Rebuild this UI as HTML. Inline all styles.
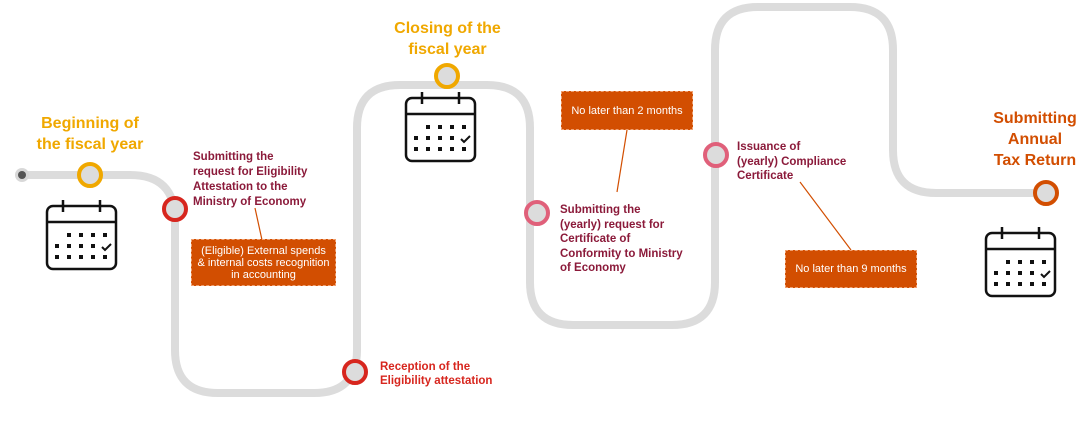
<!DOCTYPE html>
<html><head><style>
body{margin:0;width:1084px;height:428px;background:#fff;position:relative;overflow:hidden;font-family:"Liberation Sans",Arial,sans-serif}
.t{position:absolute;font-weight:bold}
.box{position:absolute;background:#d24e01;color:#fff;font-size:11px;text-align:center;border:1px dashed #f0a070;box-sizing:border-box;display:flex;align-items:center;justify-content:center;line-height:12px}
</style></head><body>
<svg width="1084" height="428" style="position:absolute;left:0;top:0">
<path d="M22 175 H130 Q175 175 175 220 V350 Q175 393 218 393 H314 Q357 393 357 350 V128 Q357 85 400 85 H487 Q530 85 530 128 V282 Q530 325 573 325 H672 Q715 325 715 282 V50 Q715 7 758 7 H850 Q893 7 893 50 V150 Q893 193 936 193 H1045" fill="none" stroke="#dcdcdc" stroke-width="8"/>
<circle cx="22" cy="175" r="7" fill="#d8d8d8"/><circle cx="22" cy="175" r="4" fill="#555"/>
<g fill="#dcdcdc" stroke-width="4">
<circle cx="90" cy="175" r="11" stroke="#f0a800"/>
<circle cx="175" cy="209" r="11" stroke="#d7261e"/>
<circle cx="355" cy="372" r="11" stroke="#d7261e"/>
<circle cx="447" cy="76" r="11" stroke="#f0a800"/>
<circle cx="537" cy="213" r="11" stroke="#e0607a"/>
<circle cx="716" cy="155" r="11" stroke="#e0607a"/>
<circle cx="1046" cy="193" r="11" stroke="#d24e01"/>
</g>
<g stroke="#d24e01" stroke-width="1.2">
<line x1="255" y1="208" x2="262" y2="240"/>
<line x1="627" y1="130" x2="617" y2="192"/>
<line x1="800" y1="182" x2="851" y2="250"/>
</g>
<defs><g id="cal" fill="none" stroke="#111" stroke-width="2.5">
<rect x="0" y="6" width="69" height="63" rx="6"/><line x1="0" y1="22" x2="69" y2="22"/>
<line x1="16" y1="0" x2="16" y2="12"/><line x1="53" y1="0" x2="53" y2="12"/>
<g fill="#111" stroke="none">
<rect x="20" y="33" width="4" height="4"/><rect x="32" y="33" width="4" height="4"/><rect x="44" y="33" width="4" height="4"/><rect x="56" y="33" width="4" height="4"/>
<rect x="8" y="44" width="4" height="4"/><rect x="20" y="44" width="4" height="4"/><rect x="32" y="44" width="4" height="4"/><rect x="44" y="44" width="4" height="4"/>
<rect x="8" y="55" width="4" height="4"/><rect x="20" y="55" width="4" height="4"/><rect x="32" y="55" width="4" height="4"/><rect x="44" y="55" width="4" height="4"/><rect x="56" y="55" width="4" height="4"/></g>
<path d="M55 47 l3 3 l6 -6" stroke-width="2"/></g></defs>
<use href="#cal" x="47" y="200"/><use href="#cal" x="406" y="92"/><use href="#cal" x="986" y="227"/>
</svg>
<div class="t" style="left:30px;top:113px;width:120px;text-align:center;color:#f0a800;font-size:16px;line-height:21px">Beginning of<br>the fiscal year</div>
<div class="t" style="left:380px;top:18px;width:135px;text-align:center;color:#f0a800;font-size:16px;line-height:21px">Closing of the<br>fiscal year</div>
<div class="t" style="left:985px;top:108px;width:100px;text-align:center;color:#d24e01;font-size:16px;line-height:21px">Submitting<br>Annual<br>Tax Return</div>
<div class="t" style="left:193px;top:150px;color:#8b1a3a;font-size:11.5px;line-height:15px">Submitting the<br>request for Eligibility<br>Attestation to the<br>Ministry of Economy</div>
<div class="t" style="left:380px;top:360px;color:#d7261e;font-size:11.5px;line-height:14px">Reception of the<br>Eligibility attestation</div>
<div class="t" style="left:560px;top:203px;color:#8b1a3a;font-size:11.5px;line-height:14.5px">Submitting the<br>(yearly) request for<br>Certificate of<br>Conformity to Ministry<br>of Economy</div>
<div class="t" style="left:737px;top:140px;color:#8b1a3a;font-size:11.5px;line-height:14.5px">Issuance of<br>(yearly) Compliance<br>Certificate</div>
<div class="box" style="left:191px;top:239px;width:145px;height:47px">(Eligible) External spends<br>&amp; internal costs recognition<br>in accounting</div>
<div class="box" style="left:561px;top:91px;width:132px;height:39px">No later than 2 months</div>
<div class="box" style="left:785px;top:250px;width:132px;height:38px">No later than 9 months</div>
</body></html>
